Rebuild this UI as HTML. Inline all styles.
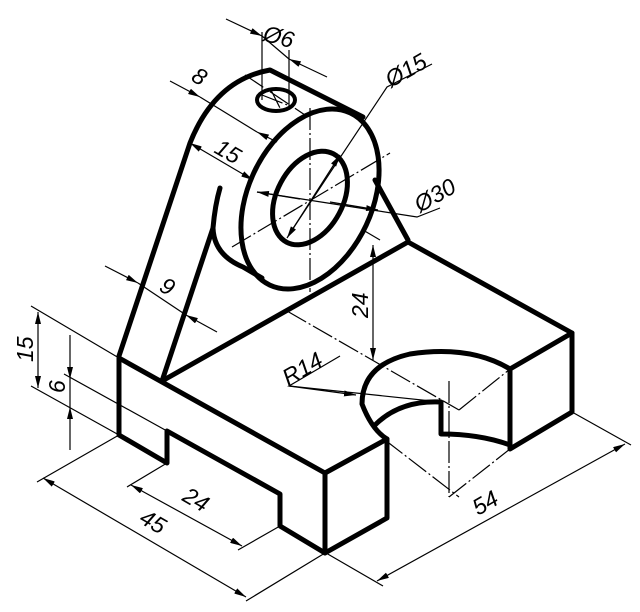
<!DOCTYPE html>
<html><head><style>body{margin:0;background:#fff}svg{display:block}</style></head><body>
<svg width="640" height="612" viewBox="0 0 640 612" xmlns="http://www.w3.org/2000/svg">
<defs>
<marker id="a" viewBox="0 0 12 6" refX="12" refY="3" markerWidth="12" markerHeight="6" orient="auto-start-reverse" markerUnits="userSpaceOnUse"><path d="M0,0 L12,3 L0,6 z" fill="#000"/></marker>
</defs>
<g fill="none" stroke="#000" stroke-width="5" stroke-linejoin="round" stroke-linecap="round">
<path d="M119,358 L119,435 L167,463 L167,431 L280,494 L280,526 L325,553 L325,473 L119,358"/>
<path d="M325,553 L387,518 L387,439 L325,473"/>
<path d="M387,439 Q372,430 362,404 Q362,365 410,354 Q470,345 510,369 L572,333 L572,412 L510,449 L510,369"/>
<path d="M375,425 Q400,400 441,402 L441,434 Q480,434 510,445"/>
<path d="M162,381 L408,242 L572,333"/>
<path d="M119,356 L190,143 Q215,80 270,70 L363,117"/>
<path d="M162,381 L213,228 Q215,205 220,188"/>
<path d="M213,228 Q214,255 243,267 L262,278"/>
<ellipse cx="310" cy="199" rx="95" ry="62" transform="rotate(-65 310 199)"/>
<ellipse cx="310" cy="198" rx="50" ry="33" transform="rotate(-62 310 198)"/>
<path d="M375,180 L408,240"/>
<ellipse cx="276" cy="100" rx="19" ry="11" stroke-width="4"/>
</g>
<g fill="none" stroke="#000" stroke-width="1.2">
<path d="M310,108 V292 M232,247 L390,153 M245,75 L305,115 M262,95 L290,106 M270,88 L282,112" stroke-dasharray="22,3,2,3"/>
<path d="M287,311 L459,410 M449,381 V497 M385,440 L459,497 M459,410 L510,369 M449,497 L510,449" stroke-dasharray="22,3,2,3"/>
<path d="M262,32 V100 M289,50 V108"/>
<path d="M226,19 L262,36" marker-end="url(#a)"/><path d="M327,77 L289,59" marker-end="url(#a)"/>
<path d="M262,36 L289,59"/>
<path d="M170,81 L200,97" marker-end="url(#a)"/><path d="M277,142 L257,132" marker-end="url(#a)"/><path d="M200,97 L257,132"/>
<path d="M190,143 L253,180" marker-start="url(#a)" marker-end="url(#a)"/>
<path d="M290,233 L387,87 L432,64"/>
<path d="M340,155 L287,238" marker-start="url(#a)" marker-end="url(#a)"/>
<path d="M257,192 L417,217 L440,208"/>
<path d="M300,199 L257,192" marker-end="url(#a)"/><path d="M330,202 L378,210" marker-end="url(#a)"/>
<path d="M105,266 L138,283" marker-end="url(#a)"/><path d="M217,332 L186,315" marker-end="url(#a)"/><path d="M138,283 L186,315"/>
<path d="M373,245 V360" marker-start="url(#a)" marker-end="url(#a)"/>
<path d="M363,230 L380,240"/>
<path d="M340,356 L289,386 L441,402"/>
<path d="M289,386 L356,395" marker-end="url(#a)"/>
<path d="M326,553 L383,586 M572,412 L631,445"/>
<path d="M377,581 L625,444" marker-start="url(#a)" marker-end="url(#a)"/>
<path d="M119,435 L37,482 M325,553 L246,601"/>
<path d="M43,478 L246,597" marker-start="url(#a)" marker-end="url(#a)"/>
<path d="M167,463 L127,487 M280,526 L238,550"/>
<path d="M131,485 L242,546" marker-start="url(#a)" marker-end="url(#a)"/>
<path d="M119,358 L31,306 M119,435 L31,386 M167,431 L64,374"/>
<path d="M38,312 V388" marker-start="url(#a)" marker-end="url(#a)"/>
<path d="M70,335 V379" marker-end="url(#a)"/><path d="M70,450 V407" marker-end="url(#a)"/><path d="M70,379 V407"/>
</g>
<g font-family="Liberation Sans, sans-serif" font-size="23" font-style="italic" fill="#000">
<text x="263" y="44" transform="rotate(15 276 38)">Ø6</text>
<text transform="translate(190,80) rotate(30)">8</text>
<text transform="translate(213,152) rotate(30)">15</text>
<text transform="translate(391,88) rotate(-30)">Ø15</text>
<text transform="translate(420,213) rotate(-30)">Ø30</text>
<text transform="translate(158,290) rotate(30)">9</text>
<text transform="translate(368,318) rotate(-90)">24</text>
<text transform="translate(288,386) rotate(-30)">R14</text>
<text transform="translate(478,516) rotate(-30)">54</text>
<text transform="translate(138,522) rotate(30)">45</text>
<text transform="translate(181,500) rotate(30)">24</text>
<text transform="translate(33,362) rotate(-90)">15</text>
<text transform="translate(65,393) rotate(-90)">6</text>
</g>
</svg>
</body></html>
